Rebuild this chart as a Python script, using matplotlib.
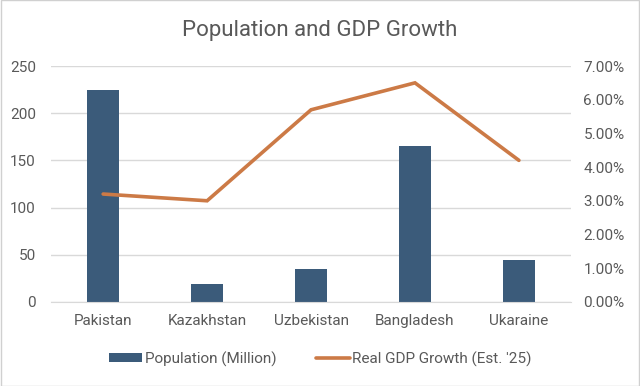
import matplotlib
matplotlib.use("Agg")
import matplotlib.pyplot as plt
from matplotlib.ticker import FuncFormatter, MultipleLocator
import numpy as np

categories = ["Pakistan", "Kazakhstan", "Uzbekistan", "Bangladesh", "Ukaraine"]
population = [225, 19, 35, 165, 44]
gdp_growth = [3.2, 3.0, 5.7, 6.5, 4.2]

plt.rcParams['font.family'] = ['Roboto', 'DejaVu Sans']
text_color = "#595959"
bar_color = "#3B5B7A"
line_color = "#CC7A46"
grid_color = "#D9D9D9"

fig = plt.figure(figsize=(6.4, 3.86), dpi=100)
fig.patch.set_facecolor("white")
ax = fig.add_axes([0.08, 0.218, 0.812, 0.611])
ax2 = ax.twinx()

x = np.arange(len(categories))
ax.bar(x, population, width=0.31, color=bar_color, label="Population (Million)", zorder=2)
ax2.plot(x, gdp_growth, color=line_color, linewidth=2.6, label="Real GDP Growth (Est. '25)",
         solid_capstyle="round", solid_joinstyle="miter")

ax.set_xlim(-0.5, len(categories) - 0.5)
ax.set_ylim(0, 250)
ax.yaxis.set_major_locator(MultipleLocator(50))
ax2.set_ylim(0, 7)
ax2.yaxis.set_major_locator(MultipleLocator(1))
ax2.yaxis.set_major_formatter(FuncFormatter(lambda v, p: f"{v:.2f}%"))

ax.grid(axis="y", color=grid_color, linewidth=1, zorder=0)
ax.set_axisbelow(True)
for a in (ax, ax2):
    for s in a.spines.values():
        s.set_visible(False)
    a.tick_params(length=0, labelsize=11, labelcolor=text_color)
ax.spines['bottom'].set_visible(True)
ax.spines['bottom'].set_color(grid_color)
ax.set_xticks(x)
ax.set_xticklabels(categories)
ax.tick_params(axis="x", pad=9)
ax.tick_params(axis="y", pad=11)
ax2.tick_params(axis="y", pad=9)

fig.text(0.5, 0.922, "Population and GDP Growth", ha="center", va="center",
         fontsize=16, color=text_color)

h1, l1 = ax.get_legend_handles_labels()
h2, l2 = ax2.get_legend_handles_labels()
leg = fig.legend(h1 + h2, l1 + l2, loc="center", bbox_to_anchor=(0.5, 0.07), ncol=2,
                 frameon=False, fontsize=11, handlelength=2.2, handleheight=0.55,
                 columnspacing=2.6, handletextpad=0.15)
for t in leg.get_texts():
    t.set_color(text_color)

border = plt.Rectangle((0.001, 0.001), 0.998, 0.998, transform=fig.transFigure,
                       fill=False, edgecolor="#D0D0D0", linewidth=1)
fig.patches.append(border)

fig.savefig("out.png", dpi=100)
